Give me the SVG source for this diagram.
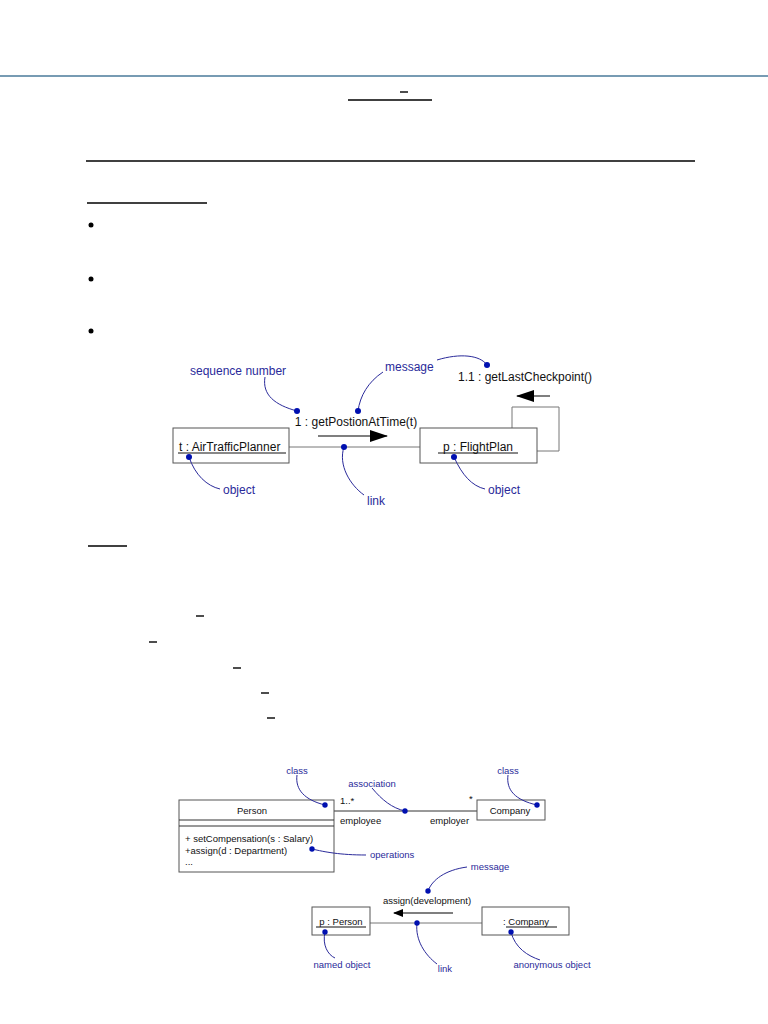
<svg xmlns="http://www.w3.org/2000/svg" width="768" height="1024" viewBox="0 0 768 1024">
<style>
.t{font-family:"Liberation Sans",Arial,sans-serif;fill:#111}
.a{font-size:12px}
.b{font-size:9.5px}
.n{font-family:"Liberation Sans",Arial,sans-serif;fill:#2a2a9a}
.box{fill:#fff;stroke:#555;stroke-width:1}
.ln{stroke:#777;stroke-width:1;fill:none}
.cv{stroke:#2a2a9a;stroke-width:1;fill:none}
.dot{fill:#0010b0}
.rule{stroke:#000;stroke-width:1.4}
</style>
<defs>
<marker id="ah" markerWidth="10" markerHeight="8" refX="9" refY="4" orient="auto" markerUnits="userSpaceOnUse"><path d="M0,0 L10,4 L0,8 Z" fill="#000"/></marker>
<marker id="ah2" markerWidth="18" markerHeight="12" refX="17" refY="6" orient="auto" markerUnits="userSpaceOnUse"><path d="M0,0 L18,6 L0,12 Z" fill="#000"/></marker>
</defs>
<rect width="768" height="1024" fill="#fff"/>
<line x1="0" y1="76" x2="768" y2="76" stroke="#4a7a9a" stroke-width="1.5"/>
<line x1="348" y1="100" x2="432" y2="100" class="rule" stroke-width="2"/>
<line x1="400" y1="92" x2="408" y2="92" class="rule"/>
<line x1="86" y1="161" x2="695" y2="161" class="rule"/>
<line x1="87" y1="203" x2="207" y2="203" class="rule"/>
<circle cx="91" cy="225" r="2.5" fill="#000"/>
<circle cx="91" cy="279" r="2.5" fill="#000"/>
<circle cx="91" cy="331" r="2.5" fill="#000"/>
<line x1="88" y1="546" x2="127" y2="546" class="rule" stroke-width="2"/>
<g class="rule">
<line x1="196" y1="616" x2="204" y2="616"/>
<line x1="149" y1="642" x2="157" y2="642"/>
<line x1="233" y1="668" x2="241" y2="668"/>
<line x1="261" y1="693" x2="269" y2="693"/>
<line x1="267" y1="718" x2="275" y2="718"/>
</g>

<g id="connectors">
<line x1="289" y1="447" x2="420" y2="447" class="ln"/>
<path d="M512,428 V407 H559 V451 H537" class="ln" stroke="#444"/>
<line x1="318" y1="436" x2="387" y2="436" stroke="#000" stroke-width="1.2" marker-end="url(#ah2)"/>
<line x1="550" y1="396" x2="517" y2="396" stroke="#000" stroke-width="1.2" marker-end="url(#ah2)"/>
<line x1="334" y1="811" x2="477" y2="811" stroke="#333" stroke-width="1"/>
<line x1="370" y1="923" x2="482" y2="923" class="ln"/>
<line x1="453" y1="913" x2="394" y2="913" stroke="#000" stroke-width="1.2" marker-end="url(#ah)"/>
</g>

<g id="d1-planner"><rect x="173" y="428" width="116" height="35" class="box"/>
<text x="179" y="451" class="t a">t : AirTrafficPlanner</text><line x1="178" y1="453" x2="286" y2="453" stroke="#111"/></g>
<g id="d1-flightplan"><rect x="420" y="428" width="117" height="35" class="box"/>
<text x="478" y="451" class="t a" text-anchor="middle">p : FlightPlan</text><line x1="438" y1="453" x2="518" y2="453" stroke="#111"/></g>
<text x="356" y="426" class="t a" text-anchor="middle">1 : getPostionAtTime(t)</text>
<text x="458" y="381" class="t a">1.1 : getLastCheckpoint()</text>

<g id="d1-notes">
<path d="M265,377 C262,395 275,405 297,411" class="cv"/><circle cx="297" cy="411" r="3" class="dot"/>
<text x="190" y="375" class="n a">sequence number</text>
<path d="M383,372 C368,382 360,396 358,411" class="cv"/><circle cx="358" cy="411" r="3" class="dot"/>
<text x="385" y="371" class="n a">message</text>
<path d="M437,360 C460,353 480,355 487,365" class="cv"/><circle cx="487" cy="365" r="3" class="dot"/>
<path d="M344,447 C338,465 350,485 364,495" class="cv"/><circle cx="344" cy="447" r="3" class="dot"/>
<text x="367" y="505" class="n a">link</text>
<path d="M189,457 C195,475 207,486 220,489" class="cv"/><circle cx="189" cy="457" r="3" class="dot"/>
<text x="223" y="494" class="n a">object</text>
<path d="M454,457 C462,475 472,486 485,489" class="cv"/><circle cx="454" cy="457" r="3" class="dot"/>
<text x="488" y="494" class="n a">object</text>
</g>

<g id="d2-person"><rect x="179" y="800" width="155" height="72" class="box" stroke="#333"/>
<line x1="179" y1="820" x2="334" y2="820" stroke="#333"/><line x1="179" y1="826" x2="334" y2="826" stroke="#333"/>
<text x="252" y="814" class="t b" text-anchor="middle">Person</text>
<text x="185" y="842" class="t b">+ setCompensation(s : Salary)</text>
<text x="185" y="854" class="t b">+assign(d : Department)</text>
<text x="185" y="865" class="t b">...</text></g>
<g id="d2-company"><rect x="477" y="800" width="68" height="20" class="box" stroke="#333"/>
<text x="510" y="814" class="t b" text-anchor="middle">Company</text></g>
<text x="340" y="804" class="t b">1..*</text>
<text x="469" y="802" class="t b">*</text>
<text x="340" y="824" class="t b">employee</text>
<text x="430" y="824" class="t b">employer</text>

<g id="d2-pperson"><rect x="312" y="907" width="58" height="28" class="box"/>
<text x="341" y="925" class="t b" text-anchor="middle">p : Person</text><line x1="316" y1="927" x2="366" y2="927" stroke="#111"/></g>
<g id="d2-anoncompany"><rect x="482" y="907" width="87" height="28" class="box"/>
<text x="526" y="925" class="t b" text-anchor="middle">: Company</text><line x1="506" y1="927" x2="557" y2="927" stroke="#111"/></g>
<text x="427" y="904" class="t b" text-anchor="middle">assign(development)</text>

<g id="d2-notes">
<path d="M297,775 C295,790 305,800 325,805" class="cv"/><circle cx="325" cy="805" r="2.7" class="dot"/>
<text x="297" y="774" class="n b" text-anchor="middle">class</text>
<path d="M372,788 C382,800 392,808 405,811" class="cv"/><circle cx="405" cy="811" r="2.7" class="dot"/>
<text x="372" y="787" class="n b" text-anchor="middle">association</text>
<path d="M508,775 C506,790 515,800 537,805" class="cv"/><circle cx="537" cy="805" r="2.7" class="dot"/>
<text x="508" y="774" class="n b" text-anchor="middle">class</text>
<path d="M312,849 C325,852 340,855 366,855" class="cv"/><circle cx="312" cy="849" r="2.7" class="dot"/>
<text x="370" y="858" class="n b">operations</text>
<path d="M467,867 C445,870 432,880 428,891" class="cv"/><circle cx="428" cy="891" r="2.7" class="dot"/>
<text x="490" y="870" class="n b" text-anchor="middle">message</text>
<path d="M417,923 C415,940 425,955 437,964" class="cv"/><circle cx="417" cy="923" r="2.7" class="dot"/>
<text x="445" y="972" class="n b" text-anchor="middle">link</text>
<path d="M325,932 C322,945 328,955 335,958" class="cv"/><circle cx="325" cy="932" r="2.7" class="dot"/>
<text x="342" y="968" class="n b" text-anchor="middle">named object</text>
<path d="M511,932 C515,948 528,956 540,960" class="cv"/><circle cx="511" cy="932" r="2.7" class="dot"/>
<text x="552" y="968" class="n b" text-anchor="middle">anonymous object</text>
</g>
</svg>
